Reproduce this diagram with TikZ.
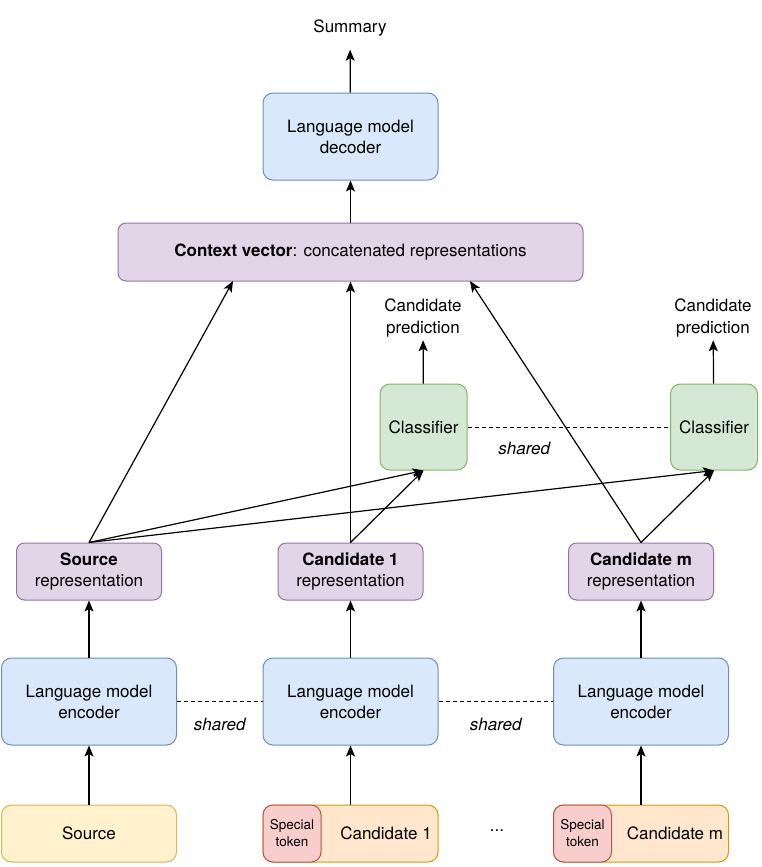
\documentclass[tikz,border=0pt]{standalone}
\usepackage{fontspec}
\setmainfont{TeX Gyre Heros}
\usepackage{xcolor}
\usetikzlibrary{arrows.meta}

\definecolor{bluefill}{HTML}{DAE8FC}
\definecolor{blueline}{HTML}{6C8EBF}
\definecolor{purplefill}{HTML}{E1D5E7}
\definecolor{purpleline}{HTML}{9673A6}
\definecolor{greenfill}{HTML}{D5E8D4}
\definecolor{greenline}{HTML}{82B366}
\definecolor{yellowfill}{HTML}{FFF2CC}
\definecolor{yellowline}{HTML}{D6B656}
\definecolor{orangefill}{HTML}{FFE6CC}
\definecolor{orangeline}{HTML}{D79B00}
\definecolor{redfill}{HTML}{F8CECC}
\definecolor{redline}{HTML}{B85450}

\begin{document}
\begin{tikzpicture}[x=1pt, y=-1pt,
  font=\fontsize{17}{21}\selectfont,
  box/.style={draw, line width=1pt, rounded corners=10pt, align=center, inner sep=0pt},
  bluebox/.style={box, draw=blueline, fill=bluefill, minimum width=175pt, minimum height=87pt},
  purplebox/.style={box, draw=purpleline, fill=purplefill, rounded corners=8pt},
  greenbox/.style={box, draw=greenline, fill=greenfill, minimum width=87pt, minimum height=86pt},
  yellowbox/.style={box, draw=yellowline, fill=yellowfill, minimum width=175pt, minimum height=57pt},
  orangebox/.style={box, draw=orangeline, fill=orangefill, minimum width=175pt, minimum height=57pt},
  redbox/.style={box, draw=redline, fill=redfill, minimum width=58pt, minimum height=57pt,
    font=\fontsize{13.5}{17}\selectfont},
  arr/.style={-{Stealth[length=11pt, width=9pt, inset=2.5pt]}, line width=1.2pt},
  link/.style={dashed, dash pattern=on 4pt off 3pt, line width=1pt},
  shared/.style={font=\fontsize{17}{21}\selectfont\itshape}]
\useasboundingbox (0,0) rectangle (762,867);

% top part
\node (sum) at (350,28) {Summary};
\node[bluebox] (dec) at (350.5,136.5) {Language model\\decoder};
\node[purplebox, minimum width=465pt, minimum height=58pt] (ctx) at (350.5,252)
  {\textbf{Context vector}: concatenated representations};
\draw[arr, shorten >=10pt] (dec) -- (sum);
\draw[arr] (ctx) -- (dec);

% classifiers
\node[greenbox] (cls1) at (423.5,427) {Classifier};
\node[greenbox] (cls2) at (714,427) {Classifier};
\node[align=center] (pred1) at (423,318) {Candidate\\prediction};
\node[align=center] (pred2) at (713,318) {Candidate\\prediction};
\draw[arr] (cls1) -- (pred1);
\draw[arr] (cls2) -- (pred2);
\draw[link] (cls1) -- (cls2) node[shared, pos=0.28, yshift=-21pt] {shared};

% encoders and representations
\foreach \n/\x/\t in {src/89/Source, c1/350.5/Candidate 1, cm/641/Candidate m} {
  \node[purplebox, minimum width=145pt, minimum height=57pt] (rep\n) at (\x,571.5)
    {\textbf{\t}\\representation};
  \node[bluebox] (enc\n) at (\x,701.5) {Language model\\encoder};
  \draw[arr] (enc\n) -- (rep\n);
}
\draw[link] (encsrc) -- (encc1) node[shared, midway, yshift=-23pt] {shared};
\draw[link] (encc1) -- (enccm) node[shared, midway, yshift=-23pt] {shared};

% inputs
\node[yellowbox] (src) at (89,833.5) {Source};
\node[orangebox] (cand1) at (350.5,833.5) {};
\node[redbox, anchor=west] (tok1) at (cand1.west) {Special\\token};
\node (cand1txt) at (386,833.5) {Candidate 1};
\node[orangebox] (candm) at (641,833.5) {};
\node[redbox, anchor=west] (tokm) at (candm.west) {Special\\token};
\node (candmtxt) at (675,833.5) {Candidate m};
\node (dots) at (497,831) {...};
\draw[arr] (src) -- (encsrc);
\draw[arr] (cand1.north) -- (encc1.south);
\draw[arr] (candm.north) -- (enccm.south);

% into context vector and classifiers
\coordinate (ctxin1) at (233,281);
\coordinate (ctxin2) at (470,281);
\draw[arr] (repsrc.north) -- (ctxin1);
\draw[arr] (repc1.north) -- (repc1.north |- ctx.south);
\draw[arr] (repcm.north) -- (ctxin2);
\draw[arr] (repsrc.north) -- (cls1.south);
\draw[arr] (repc1.north) -- (cls1.south);
\draw[arr] (repsrc.north) -- (cls2.south);
\draw[arr] (repcm.north) -- (cls2.south);
\end{tikzpicture}
\end{document}
